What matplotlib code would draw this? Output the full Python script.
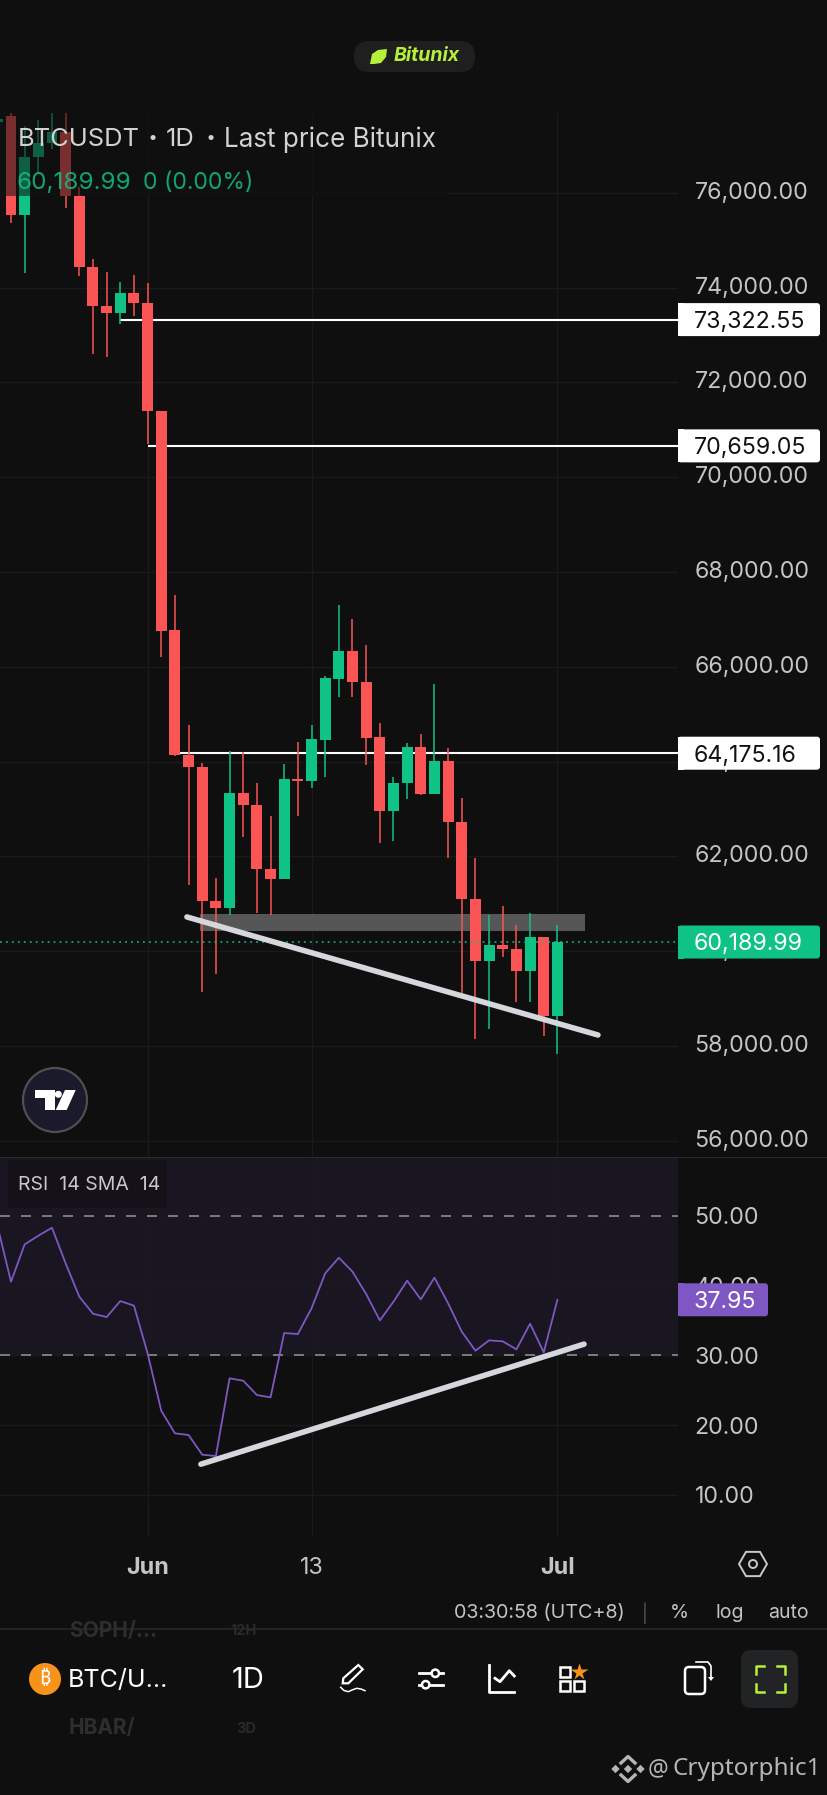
#!/usr/bin/env python3
"""BTCUSDT daily candles with RSI pane, phone screenshot layout."""

import matplotlib
matplotlib.use("Agg")
import matplotlib.pyplot as plt
import numpy as np
from matplotlib.patches import Circle, FancyBboxPatch, Polygon, Rectangle, RegularPolygon
from matplotlib.transforms import ScaledTranslation

plt.rcParams["font.family"] = ["Inter", "DejaVu Sans"]

W, H, DPI = 828, 1795, 100
BG = "#0f0f0f"
GRID = "#1a1a1a"
UP = "#0fc285"
DOWN = "#fb5454"
LABEL = "#c4c4c4"
LIME = "#b6f03a"
PURPLE = "#7e57c2"

# daily candles, first one is the cut-off candle at the left edge
opens = [77500, 77620, 75530, 76760, 77050, 77280, 75930, 74430, 73610, 73460, 73880, 73670,
         71400, 66780, 64140, 63890, 61060, 60900, 63340, 63080, 61740, 61530, 63630, 63590,
         64450, 65750, 66340, 65680, 64520, 62960, 63550, 64310, 63320, 64010, 62730, 61090,
         59790, 60120, 60050, 59590, 60290, 58630]
highs = [77680, 77680, 77410, 77530, 77680, 77680, 76120, 74600, 74330, 74110, 74260, 74090,
         71400, 67520, 64770, 63970, 61550, 64220, 64200, 63550, 62850, 63950, 64410, 64770,
         65810, 67310, 67010, 66460, 64810, 63670, 64390, 64580, 65640, 64290, 63230, 61970,
         60760, 60950, 60550, 60800, 60300, 60550]
lows = [77400, 75370, 74300, 76420, 76920, 75680, 74240, 72600, 72540, 73230, 73400, 70700,
        66210, 64120, 61400, 59140, 59520, 60770, 62410, 60810, 60770, 61530, 62850, 63440,
        63680, 65370, 65370, 63930, 62290, 62330, 63210, 63300, 63320, 61970, 59120, 58150,
        58360, 59880, 58930, 58930, 58210, 57830]
closes = [77560, 75530, 76760, 77050, 77280, 75930, 74430, 73610, 73460, 73880, 73670, 71400,
          66760, 64140, 63890, 61060, 60900, 63340, 63080, 61740, 61530, 63630, 63590, 64470,
          65770, 66340, 65680, 64500, 62960, 63550, 64310, 63320, 64010, 62730, 61090, 59790,
          60120, 60050, 59590, 60290, 58630, 60189.99]
rsi_values = [48.6, 40.54, 45.89, 47.13, 48.28, 43.17, 38.40, 35.96, 35.48, 37.77, 37.11, 30.28,
              22.06, 18.82, 18.58, 15.76, 15.57, 26.70, 26.36, 24.31, 23.97, 33.19, 33.05, 36.72,
              41.74, 43.98, 41.98, 38.78, 35.00, 37.68, 40.69, 38.01, 41.12, 37.44, 33.38, 30.66,
              32.14, 32.00, 30.85, 34.53, 30.42, 37.95]

price_ticks = [76000, 74000, 72000, 70000, 68000, 66000, 64000, 62000, 60000, 58000, 56000]
rsi_ticks = [50, 40, 30, 20, 10]
date_ticks = [10, 22, 40]
date_labels = ["Jun", "13", "Jul"]

# ray start candle, price
levels = [(8, 73322.55), (10, 70659.05), (12, 64175.16)]
last_price = 60189.99
last_rsi = 37.95
zone_x = [13.84, 42.0]
zone_y = [60425, 60783]
price_trend_x = [12.88, 42.97]
price_trend_y = [60720, 58230]
rsi_trend_x = [13.9, 41.95]
rsi_trend_y = [14.4, 31.6]

# pane geometry in pixels
PANE_R = 678
PRICE_TOP, PRICE_BOTTOM = 113, 1157
RSI_TOP, RSI_BOTTOM = 1158, 1537
STEP = 13.66
X0 = 11.0
price_at = lambda y: 76000 - (y - 192.7) / 0.0474
rsi_at = lambda y: 50 - (y - 1215.7) / 6.98
xlim = (-X0 / STEP, (PANE_R - X0) / STEP)

ICON_FONTS = ["Noto Sans", "Roboto", "Open Sans", "Lato", "Liberation Sans", "DejaVu Sans"]


def pane(fig, top, bottom):
    ax = fig.add_axes([0, 1 - bottom / H, PANE_R / W, (bottom - top) / H])
    ax.set_facecolor(BG)
    ax.set_xlim(*xlim)
    for spine in ax.spines.values():
        spine.set_visible(False)
    ax.yaxis.tick_right()
    ax.tick_params(axis="both", length=0, colors=LABEL, labelsize=16.7)
    ax.tick_params(axis="y", pad=11.8)
    ax.set_xticks(date_ticks)
    ax.grid(True, color=GRID, lw=1.0)
    ax.set_axisbelow(True)
    return ax


def label_box(ui, y, text, face, color, height=33, right=820):
    ui.add_patch(FancyBboxPatch((PANE_R, y - height / 2), right - PANE_R, height,
                                boxstyle="round,pad=0,rounding_size=3", fc=face, ec="none", zorder=5))
    ui.add_patch(Rectangle((PANE_R, y - height / 2), 6, height, fc=face, ec="none", zorder=5))
    ui.text(694, y, text, color=color, fontsize=16.7, va="center_baseline", ha="left", zorder=6)


def clipped_text(ui, x, y, text, size, color, clip):
    ui.text(x, y, text, color=color, fontsize=size, fontweight="bold", va="center",
            clip_on=True, clip_path=Rectangle((0, clip[0]), W, clip[1] - clip[0], transform=ui.transData))


fig = plt.figure(figsize=(W / DPI, H / DPI), dpi=DPI, facecolor=BG)

# price pane
ax = pane(fig, PRICE_TOP, PRICE_BOTTOM)
ax.set_ylim(price_at(PRICE_BOTTOM), price_at(PRICE_TOP))
ax.set_yticks(price_ticks, [f"{p:,.2f}" for p in price_ticks])
ax.tick_params(axis="x", labelbottom=False)
# labels sit a little above their gridlines
lift = ScaledTranslation(0, 2.4 / DPI, fig.dpi_scale_trans)
for tick in ax.get_yticklabels():
    tick.set_transform(tick.get_transform() + lift)

xs = np.arange(len(opens)) - 1
for start, price in levels:
    ax.hlines(price, start, xlim[1], color="white", lw=1.5, zorder=2)
ax.add_patch(Rectangle((zone_x[0], zone_y[0]), zone_x[1] - zone_x[0], zone_y[1] - zone_y[0],
                       fc="#565656", ec="none", zorder=1.5))
colors = [UP if c >= o else DOWN for o, c in zip(opens, closes)]
ax.vlines(xs, lows, highs, colors=colors, lw=1.1, zorder=3)
bottoms = np.minimum(opens, closes)
heights = np.maximum(np.abs(np.array(closes) - np.array(opens)), 40)
ax.bar(xs, heights, bottom=bottoms, width=0.8, color=colors, zorder=3.2)
ax.hlines(last_price, *xlim, color=UP, lw=1.1, linestyles=(0, (1.2, 2.7)), zorder=3.5)
ax.plot(price_trend_x, price_trend_y, color="#d6d7dc", lw=4.0, solid_capstyle="round", zorder=4)

# rsi pane
rx = pane(fig, RSI_TOP, RSI_BOTTOM)
rx.set_ylim(rsi_at(RSI_BOTTOM), rsi_at(RSI_TOP))
rx.set_yticks(rsi_ticks, [f"{v:.2f}" for v in rsi_ticks])
rx.set_xticklabels(date_labels)
rx.tick_params(axis="x", pad=14.5)
for tick, bold in zip(rx.get_xticklabels(), [True, False, True]):
    tick.set_fontweight("bold" if bold else "normal")
    tick.set_fontsize(16.8)
rx.axhspan(30, rsi_at(RSI_TOP), color="#191622", lw=0, zorder=0.5)
rx.hlines([50, 30], *xlim, color="#8d8b8f", lw=1.2, linestyles=(0, (6, 6.6)), zorder=1.5)
rx.plot(xs, rsi_values, color=PURPLE, lw=1.3, zorder=3)
rx.plot(rsi_trend_x, rsi_trend_y, color="#d6d7dc", lw=4.0, solid_capstyle="round", zorder=4)

# screen furniture, in pixels
ui = fig.add_axes([0, 0, 1, 1], zorder=5)
ui.set_xlim(0, W)
ui.set_ylim(H, 0)
ui.axis("off")
ui.patch.set_alpha(0)

ui.add_patch(Rectangle((0, 1156.5), W, 1.5, fc="#2a2a2a", ec="none"))
ui.add_patch(Rectangle((0, 1628), W, 1.5, fc="#222222", ec="none"))

# legend backdrop dims the candles under the title
ui.add_patch(Rectangle((0, 113), 448, 83, fc=BG, ec="none", alpha=0.55))
ui.text(18, 140, "BTCUSDT", color="#d2d2d2", fontsize=18.3, va="center")
ui.text(152.6, 140, "·", color="#d2d2d2", fontsize=22, va="center", ha="center", fontweight="bold")
ui.text(166, 140, "1D", color="#d2d2d2", fontsize=18.3, va="center")
ui.text(211, 140, "·", color="#d2d2d2", fontsize=22, va="center", ha="center", fontweight="bold")
ui.text(224, 140, "Last price Bitunix", color="#d2d2d2", fontsize=18.8, va="center")
ui.text(17, 183, "60,189.99", color=UP, alpha=0.85, fontsize=17.4, va="center")
ui.text(143, 183, "0 (0.00%)", color=UP, alpha=0.85, fontsize=16.5, va="center")

# exchange pill
ui.add_patch(FancyBboxPatch((354, 41), 121, 31, boxstyle="round,pad=0,rounding_size=15",
                            fc="#1f1f1f", ec="none"))
ui.add_patch(Polygon([(370, 64), (372, 54), (378, 50), (387, 49), (386, 57), (381, 63), (374, 64)],
                     fc=LIME, ec="none"))
ui.text(394, 56, "Bitunix", color=LIME, fontsize=14, fontweight="bold", style="italic", va="center")

# price labels
for _, price in levels:
    label_box(ui, 192.7 + (76000 - price) * 0.0474, f"{price:,.2f}", "white", "#111111")
label_box(ui, 942, f"{last_price:,.2f}", "#0fc285", "white")
label_box(ui, 1299.8, f"{last_rsi:.2f}", PURPLE, "white", right=768)

# rsi legend box
ui.add_patch(Rectangle((8, 1160), 159, 48, fc="#141218", ec="none", zorder=1))
ui.text(18, 1185, "RSI  14 SMA  14", color="#c8c8c8", fontsize=14, va="center", zorder=2)

# tradingview badge
ui.add_patch(Circle((55, 1100), 32, fc="#1a1a2a", ec="#4e4e54", lw=1.6))
ui.add_patch(Polygon([(35, 1090), (55, 1090), (55, 1110), (45, 1110), (45, 1097.7), (35, 1097.7)], fc="white", ec="none"))
ui.add_patch(Circle((58.3, 1094.3), 3.5, fc="white", ec="none"))
ui.add_patch(Polygon([(65, 1090), (75.7, 1090), (66.7, 1110), (55.7, 1110)], fc="white", ec="none"))

# pane footer
ui.add_patch(RegularPolygon((753, 1564), 6, radius=14, orientation=np.pi / 2, fc="none", ec="#c8c8c8", lw=1.4))
ui.add_patch(Circle((753, 1564), 4, fc="none", ec="#c8c8c8", lw=1.4))
ui.text(454, 1613, "03:30:58 (UTC+8)", color=LABEL, fontsize=14.2, va="center")
ui.text(645, 1613, "|", color="#555555", fontsize=13, va="center", ha="center")
ui.text(679, 1613, "%", color=LABEL, fontsize=14, va="center", ha="center")
ui.text(730, 1613, "log", color=LABEL, fontsize=14, va="center", ha="center")
ui.text(788, 1613, "auto", color=LABEL, fontsize=14, va="center", ha="center")

# dock, faded neighbours scrolled behind it
clipped_text(ui, 69, 1631, "SOPH/...", 15, "#2e2e2e", (1629, 1660))
clipped_text(ui, 230, 1631, "12H", 10.5, "#2a2a2a", (1629, 1660))
clipped_text(ui, 69, 1728, "HBAR/", 15, "#2e2e2e", (1700, 1728))
clipped_text(ui, 236, 1729, "3D", 10.5, "#2a2a2a", (1700, 1728))

ui.add_patch(Circle((45, 1679), 16, fc="#f7931a", ec="none"))
ui.text(45, 1679, "₿", color="white", fontsize=14, fontweight="bold", ha="center", va="center", family=ICON_FONTS)
ui.text(68, 1681, "BTC/U...", color="white", fontsize=18, va="center")
ui.text(232, 1681, "1D", color="white", fontsize=21, va="center")

# pencil
ui.add_patch(Polygon([(342.7, 1683.3), (343.3, 1678.3), (358.3, 1665), (362.7, 1669.3), (348.3, 1683.3)],
                     fc="none", ec="white", lw=1.6))
ui.plot([340.7, 344, 348.3, 352, 356.7, 361, 365], [1687.3, 1690.5, 1691.7, 1690, 1688.3, 1689, 1690.7], color="white", lw=1.1)
# sliders
ui.plot([418.7, 442.7], [1673.3, 1673.3], color="white", lw=2)
ui.plot([418.7, 442.7], [1684.7, 1684.7], color="white", lw=2)
ui.add_patch(Circle((435.3, 1673.3), 3.7, fc=BG, ec="white", lw=1.8, zorder=3))
ui.add_patch(Circle((425.7, 1684.7), 3.7, fc=BG, ec="white", lw=1.8, zorder=3))
# line chart
ui.plot([489.3, 489.3, 514.3], [1665, 1691.7, 1691.7], color="white", lw=2)
ui.plot([495, 500, 509.3, 514.3], [1678.3, 1681.7, 1670.7, 1676], color="white", lw=2)
# favourites grid
for gx, gy in [(560, 1666.7), (560, 1680.7), (574.3, 1680.7)]:
    ui.add_patch(Rectangle((gx, gy), 9.8, 10, fc="none", ec="white", lw=1.8))
ui.plot([579.3], [1672.3], marker="*", ms=13, color="#f7931a", mec="none")
# rotate phone
ui.add_patch(FancyBboxPatch((685, 1667), 20, 27, boxstyle="round,pad=0,rounding_size=4", fc="none", ec="white", lw=1.8))
ui.plot([696, 708, 711, 711], [1662, 1662, 1666, 1678], color="white", lw=1.2)
ui.add_patch(Polygon([(708, 1677), (714, 1677), (711, 1681)], fc="white", ec="none"))
# fullscreen button
ui.add_patch(FancyBboxPatch((741, 1650), 57, 58, boxstyle="round,pad=0,rounding_size=10", fc="#222324", ec="none"))
for cx, cy, sx, sy in [(756, 1666, 1, 1), (785, 1666, -1, 1), (756, 1692, 1, -1), (785, 1692, -1, -1)]:
    ui.plot([cx, cx, cx + 8 * sx], [cy + 8 * sy, cy, cy], color=LIME, lw=1.8)

# watermark
for dx, dy in [(-12.5, 0), (0, 0), (12.5, 0)]:
    ui.add_patch(RegularPolygon((628 + dx, 1769 + dy), 4, radius=4.2, fc="#b5b5b5", ec="none"))
ui.plot([621, 628, 635], [1763, 1756.5, 1763], color="#b5b5b5", lw=2.4)
ui.plot([621, 628, 635], [1775, 1781.5, 1775], color="#b5b5b5", lw=2.4)
ui.text(648, 1769, "@", color="#b5b5b5", fontsize=16.5, va="center", family=["Noto Sans", "DejaVu Sans"])
ui.text(673, 1769, "Cryptorphic1", color="#b5b5b5", fontsize=17.5, va="center", family=["Noto Sans", "DejaVu Sans"])

fig.savefig("out.png", dpi=DPI, facecolor=BG)
